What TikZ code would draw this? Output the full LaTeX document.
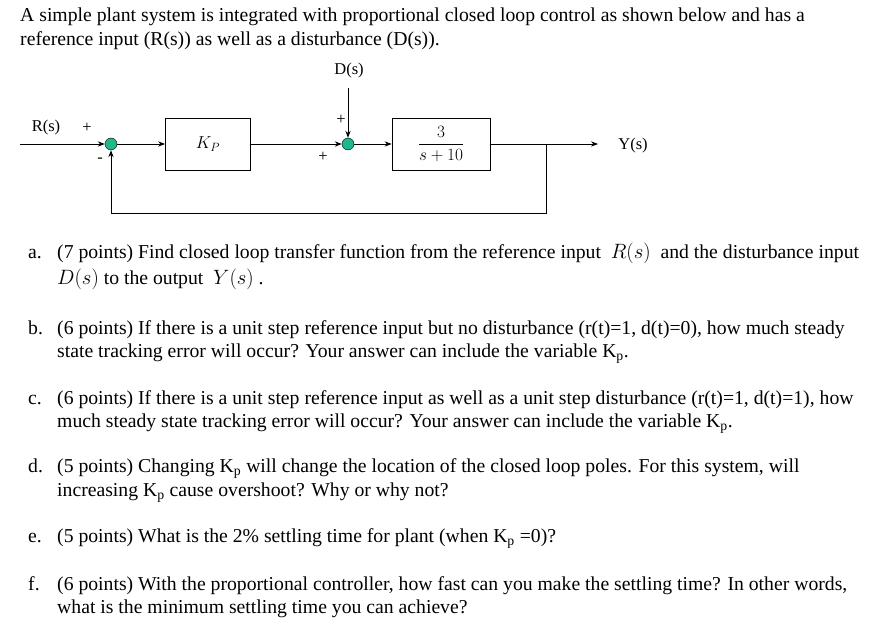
\documentclass[tikz,border=0pt]{standalone}
\usepackage{fontspec}
\setmainfont{Liberation Serif}
\usetikzlibrary{arrows.meta}
\definecolor{sumg}{HTML}{1FB88C}
\begin{document}
\begin{tikzpicture}[x=1pt,y=-1pt,
  txt/.style={anchor=base west,inner sep=0pt,font=\fontsize{19.7}{22}\selectfont},
  lbl/.style={inner sep=0pt,font=\fontsize{16.5}{18}\selectfont},
  blk/.style={draw,thick,minimum width=85pt,minimum height=52pt,font=\fontsize{17}{19}\selectfont},
  sumc/.style={circle,draw,fill=sumg,minimum size=12pt,inner sep=0pt},
  sig/.style={thick,-{Stealth[length=7pt]}}]
\useasboundingbox (0,0) rectangle (885,631);
\node[txt] (t1) at (20,22) {A simple plant system is integrated with proportional closed loop control as shown below and has a};
\node[txt] (t2) at (20,46) {reference input (R(s)) as well as a disturbance (D(s)).};
% diagram
\coordinate (rin) at (20,144);
\node[sumc] (s1) at (111,144) {};
\node[blk] (kp) at (208,144) {$K_P$};
\node[sumc] (s2) at (348,144) {};
\node[blk,minimum width=98pt] (g) at (441,144) {$\displaystyle\frac{3}{s+10}$};
\coordinate (br) at (546,144);
\coordinate (yout) at (598,144);
\coordinate (dtop) at (348,88);
\coordinate (fb1) at (546,213);
\coordinate (fb2) at (111,213);
\draw[sig] (rin) -- (s1);
\draw[sig] (s1) -- (kp);
\draw[sig] (kp) -- (s2);
\draw[sig] (s2) -- (g);
\draw[sig] (g.east) -- (yout);
\draw[sig] (dtop) -- (s2);
\draw[sig] (br) -- (fb1) -- (fb2) -- (s1);
\node[lbl] (ls) at (349,71) {D(s)};
\node[lbl] (lr) at (46,128) {R(s)};
\node[lbl] (p1) at (87,128) {+};
\node[lbl] (m1) at (100,160) {-};
\node[lbl] (p2) at (341,120) {+};
\node[lbl] (p3) at (323,157) {+};
\node[lbl] (ly) at (633,146) {Y(s)};
% questions
\node[txt] (a0) at (28,258) {a.};
\node[txt] (a1) at (57,258) {(7 points) Find closed loop transfer function from the reference input \ $R(s)$ \ and the disturbance input};
\node[txt] (a2) at (57,284) {$D(s)$ to the output \ $Y(s)$ .};
\node[txt] (b0) at (28,334) {b.};
\node[txt] (b1) at (57,334) {(6 points) If there is a unit step reference input but no disturbance (r(t)=1, d(t)=0), how much steady};
\node[txt] (b2) at (57,357) {state tracking error will occur? Your answer can include the variable K\textsubscript{p}.};
\node[txt] (c0) at (28,404) {c.};
\node[txt] (c1) at (57,404) {(6 points) If there is a unit step reference input as well as a unit step disturbance (r(t)=1, d(t)=1), how};
\node[txt] (c2) at (57,427) {much steady state tracking error will occur? Your answer can include the variable K\textsubscript{p}.};
\node[txt] (d0) at (28,472) {d.};
\node[txt] (d1) at (57,472) {(5 points) Changing K\textsubscript{p} will change the location of the closed loop poles. For this system, will};
\node[txt] (d2) at (57,496) {increasing K\textsubscript{p} cause overshoot? Why or why not?};
\node[txt] (e0) at (28,542) {e.};
\node[txt] (e1) at (57,542) {(5 points) What is the 2\% settling time for plant (when K\textsubscript{p} =0)?};
\node[txt] (f0) at (28,590) {f.};
\node[txt] (f1) at (57,590) {(6 points) With the proportional controller, how fast can you make the settling time? In other words,};
\node[txt] (f2) at (57,613) {what is the minimum settling time you can achieve?};
\end{tikzpicture}
\end{document}
